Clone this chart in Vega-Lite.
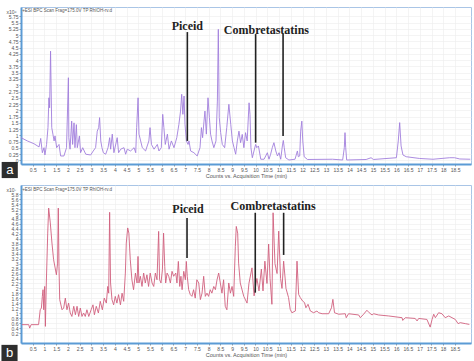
{
 "$schema": "https://vega.github.io/schema/vega-lite/v6.json",
 "background": "white",
 "padding": {"left": 0, "top": 6, "right": 4, "bottom": 0},
 "autosize": {"type": "pad"},
 "spacing": 21,
 "bounds": "flush",
 "config": {
  "view": {"stroke": "#a9c5e6", "strokeWidth": 1},
  "axis": {"domainColor": "#5b9bd5", "domainWidth": 2, "tickColor": "#999", "tickSize": 2, "labelFontSize": 5, "labelColor": "#555", "labelFont": "Liberation Sans", "gridColor": "#ececec", "gridWidth": 0.6, "labelOverlap": false, "labelBound": false, "labelPadding": 1, "titleFont": "Liberation Sans", "titleFontWeight": "normal", "titleColor": "#555", "titleFontSize": 5.5}
 },
 "datasets": {
  "lineA": [
   {"t":0.0,"v":0.91},{"t":0.27,"v":0.78},{"t":0.55,"v":0.67},{"t":0.77,"v":0.54},{"t":0.84,"v":0.88},{"t":0.91,"v":0.31},{"t":0.98,"v":0.51},{"t":1.02,"v":0.22},{"t":1.09,"v":0.64},{"t":1.15,"v":1.31},{"t":1.19,"v":2.5},{"t":1.22,"v":2.1},{"t":1.26,"v":4.36},{"t":1.31,"v":1.31},{"t":1.36,"v":1.05},{"t":1.41,"v":0.78},{"t":1.45,"v":0.98},{"t":1.52,"v":0.51},{"t":1.62,"v":0.64},{"t":1.69,"v":0.18},{"t":1.83,"v":0.18},{"t":1.94,"v":0.51},{"t":2.02,"v":3.3},{"t":2.04,"v":0.91},{"t":2.09,"v":0.45},{"t":2.16,"v":1.57},{"t":2.2,"v":0.64},{"t":2.26,"v":1.5},{"t":2.3,"v":0.51},{"t":2.36,"v":1.43},{"t":2.4,"v":0.51},{"t":2.49,"v":0.98},{"t":2.54,"v":0.31},{"t":2.63,"v":0.51},{"t":2.76,"v":0.25},{"t":2.97,"v":0.22},{"t":3.08,"v":0.38},{"t":3.18,"v":0.51},{"t":3.25,"v":1.17},{"t":3.31,"v":1.31},{"t":3.35,"v":1.71},{"t":3.4,"v":0.78},{"t":3.45,"v":0.51},{"t":3.51,"v":0.31},{"t":3.61,"v":0.25},{"t":3.71,"v":0.51},{"t":3.78,"v":0.91},{"t":3.82,"v":0.45},{"t":3.89,"v":1.05},{"t":3.96,"v":0.31},{"t":4.1,"v":0.91},{"t":4.16,"v":0.31},{"t":4.25,"v":0.45},{"t":4.39,"v":0.51},{"t":4.46,"v":0.25},{"t":4.53,"v":0.45},{"t":4.67,"v":0.38},{"t":4.82,"v":0.51},{"t":4.89,"v":0.31},{"t":4.93,"v":1.31},{"t":4.99,"v":2.5},{"t":5.03,"v":1.05},{"t":5.1,"v":0.78},{"t":5.17,"v":0.51},{"t":5.31,"v":0.38},{"t":5.45,"v":0.78},{"t":5.5,"v":1.31},{"t":5.56,"v":0.64},{"t":5.67,"v":0.45},{"t":5.81,"v":0.64},{"t":5.88,"v":0.38},{"t":5.98,"v":0.51},{"t":6.04,"v":1.84},{"t":6.09,"v":1.31},{"t":6.15,"v":0.64},{"t":6.24,"v":1.05},{"t":6.31,"v":0.45},{"t":6.41,"v":0.78},{"t":6.52,"v":0.51},{"t":6.64,"v":0.91},{"t":6.73,"v":1.44},{"t":6.8,"v":1.97},{"t":6.85,"v":2.64},{"t":6.9,"v":1.84},{"t":6.95,"v":2.57},{"t":6.99,"v":1.44},{"t":7.05,"v":0.78},{"t":7.12,"v":0.64},{"t":7.16,"v":0.78},{"t":7.23,"v":0.38},{"t":7.37,"v":0.31},{"t":7.51,"v":0.18},{"t":7.63,"v":0.51},{"t":7.69,"v":1.31},{"t":7.74,"v":0.91},{"t":7.8,"v":1.57},{"t":7.84,"v":1.97},{"t":7.9,"v":1.05},{"t":7.97,"v":2.5},{"t":8.03,"v":1.71},{"t":8.08,"v":1.05},{"t":8.14,"v":0.78},{"t":8.22,"v":0.51},{"t":8.31,"v":0.78},{"t":8.37,"v":2.37},{"t":8.41,"v":5.23},{"t":8.45,"v":1.71},{"t":8.51,"v":1.11},{"t":8.58,"v":0.64},{"t":8.68,"v":0.51},{"t":8.77,"v":1.31},{"t":8.86,"v":2.24},{"t":8.94,"v":1.44},{"t":9.01,"v":0.78},{"t":9.08,"v":0.51},{"t":9.15,"v":0.25},{"t":9.22,"v":0.78},{"t":9.29,"v":1.17},{"t":9.36,"v":0.71},{"t":9.43,"v":1.04},{"t":9.5,"v":0.51},{"t":9.57,"v":1.11},{"t":9.64,"v":0.78},{"t":9.72,"v":2.3},{"t":9.76,"v":1.84},{"t":9.8,"v":0.51},{"t":9.86,"v":0.11},{"t":9.93,"v":0.38},{"t":10.0,"v":0.64},{"t":10.05,"v":0.51},{"t":10.12,"v":0.58},{"t":10.22,"v":0.05},{"t":10.36,"v":0.05},{"t":10.43,"v":0.18},{"t":10.5,"v":0.31},{"t":10.57,"v":0.05},{"t":10.64,"v":0.25},{"t":10.71,"v":0.51},{"t":10.78,"v":0.71},{"t":10.86,"v":0.38},{"t":10.93,"v":0.18},{"t":11.0,"v":0.31},{"t":11.07,"v":0.05},{"t":11.14,"v":0.58},{"t":11.18,"v":0.8},{"t":11.22,"v":0.51},{"t":11.28,"v":0.11},{"t":11.42,"v":0.02},{"t":11.68,"v":0.05},{"t":11.78,"v":0.38},{"t":11.82,"v":0.15},{"t":11.88,"v":0.18},{"t":11.92,"v":1.17},{"t":11.97,"v":1.57},{"t":12.01,"v":0.78},{"t":12.07,"v":0.15},{"t":12.21,"v":0.04},{"t":13.28,"v":0.05},{"t":13.71,"v":0.02},{"t":13.78,"v":0.51},{"t":13.81,"v":1.11},{"t":13.84,"v":0.51},{"t":13.88,"v":0.02},{"t":14.71,"v":0.04},{"t":14.92,"v":0.11},{"t":15.02,"v":0.04},{"t":16.0,"v":0.11},{"t":16.08,"v":0.78},{"t":16.14,"v":1.51},{"t":16.2,"v":0.58},{"t":16.28,"v":0.22},{"t":16.42,"v":0.15},{"t":16.99,"v":0.08},{"t":17.56,"v":0.05},{"t":18.27,"v":0.11},{"t":18.48,"v":0.11},{"t":18.7,"v":0.06},{"t":19.15,"v":0.05}
  ],
  "lineB": [
   {"t":0.04,"v":0.54},{"t":0.33,"v":0.54},{"t":0.37,"v":0.4},{"t":0.43,"v":0.54},{"t":0.75,"v":0.54},{"t":0.82,"v":1.14},{"t":0.87,"v":1.21},{"t":0.91,"v":1.68},{"t":0.94,"v":1.95},{"t":0.97,"v":1.14},{"t":1.01,"v":2.08},{"t":1.04,"v":0.47},{"t":1.08,"v":2.22},{"t":1.14,"v":4.23},{"t":1.18,"v":5.24},{"t":1.25,"v":4.64},{"t":1.32,"v":3.83},{"t":1.39,"v":3.16},{"t":1.51,"v":2.55},{"t":1.56,"v":3.02},{"t":1.59,"v":5.24},{"t":1.62,"v":2.89},{"t":1.65,"v":1.55},{"t":1.75,"v":1.14},{"t":1.82,"v":1.21},{"t":1.89,"v":1.61},{"t":1.96,"v":1.14},{"t":2.03,"v":1.41},{"t":2.1,"v":1.01},{"t":2.17,"v":0.87},{"t":2.25,"v":1.28},{"t":2.32,"v":0.94},{"t":2.39,"v":1.28},{"t":2.46,"v":0.87},{"t":2.53,"v":1.21},{"t":2.6,"v":0.87},{"t":2.67,"v":1.01},{"t":2.74,"v":0.87},{"t":2.81,"v":1.14},{"t":2.89,"v":0.87},{"t":2.99,"v":1.14},{"t":3.07,"v":1.34},{"t":3.13,"v":0.94},{"t":3.21,"v":1.28},{"t":3.3,"v":1.01},{"t":3.38,"v":1.48},{"t":3.47,"v":1.14},{"t":3.55,"v":1.61},{"t":3.64,"v":1.41},{"t":3.7,"v":2.08},{"t":3.74,"v":1.81},{"t":3.78,"v":5.07},{"t":3.82,"v":2.22},{"t":3.88,"v":1.55},{"t":3.95,"v":1.34},{"t":4.02,"v":1.68},{"t":4.09,"v":1.41},{"t":4.16,"v":1.75},{"t":4.24,"v":1.34},{"t":4.31,"v":1.81},{"t":4.38,"v":1.48},{"t":4.45,"v":2.62},{"t":4.49,"v":3.83},{"t":4.55,"v":4.44},{"t":4.6,"v":4.23},{"t":4.66,"v":3.16},{"t":4.73,"v":2.35},{"t":4.8,"v":1.95},{"t":4.88,"v":2.62},{"t":4.95,"v":2.22},{"t":4.99,"v":3.29},{"t":5.03,"v":2.22},{"t":5.09,"v":2.49},{"t":5.16,"v":2.08},{"t":5.23,"v":2.62},{"t":5.3,"v":2.22},{"t":5.37,"v":2.55},{"t":5.44,"v":2.08},{"t":5.51,"v":2.62},{"t":5.59,"v":2.22},{"t":5.66,"v":2.08},{"t":5.73,"v":2.62},{"t":5.8,"v":2.35},{"t":5.87,"v":4.3},{"t":5.91,"v":2.35},{"t":5.97,"v":2.22},{"t":6.03,"v":2.75},{"t":6.08,"v":4.23},{"t":6.13,"v":2.89},{"t":6.17,"v":2.22},{"t":6.23,"v":2.62},{"t":6.3,"v":2.49},{"t":6.37,"v":2.22},{"t":6.44,"v":2.69},{"t":6.51,"v":2.49},{"t":6.6,"v":2.62},{"t":6.65,"v":2.22},{"t":6.71,"v":3.09},{"t":6.77,"v":2.08},{"t":6.82,"v":2.49},{"t":6.87,"v":1.95},{"t":6.94,"v":2.69},{"t":7.01,"v":2.35},{"t":7.05,"v":3.09},{"t":7.09,"v":2.49},{"t":7.15,"v":1.95},{"t":7.22,"v":1.75},{"t":7.29,"v":1.68},{"t":7.36,"v":1.95},{"t":7.43,"v":1.61},{"t":7.5,"v":2.35},{"t":7.58,"v":2.22},{"t":7.65,"v":1.55},{"t":7.72,"v":1.81},{"t":7.79,"v":2.49},{"t":7.86,"v":1.68},{"t":7.93,"v":1.81},{"t":8.0,"v":1.68},{"t":8.07,"v":1.95},{"t":8.14,"v":1.81},{"t":8.22,"v":2.08},{"t":8.29,"v":1.95},{"t":8.36,"v":2.35},{"t":8.43,"v":2.62},{"t":8.5,"v":2.22},{"t":8.57,"v":1.81},{"t":8.64,"v":2.35},{"t":8.71,"v":1.28},{"t":8.78,"v":1.14},{"t":8.86,"v":2.22},{"t":8.93,"v":1.81},{"t":9.0,"v":2.08},{"t":9.07,"v":1.68},{"t":9.14,"v":3.7},{"t":9.18,"v":4.5},{"t":9.24,"v":4.23},{"t":9.28,"v":3.02},{"t":9.35,"v":2.22},{"t":9.5,"v":1.68},{"t":9.64,"v":1.41},{"t":9.72,"v":2.2},{"t":9.85,"v":2.83},{"t":9.94,"v":1.7},{"t":10.06,"v":2.4},{"t":10.15,"v":1.9},{"t":10.25,"v":2.78},{"t":10.32,"v":1.9},{"t":10.4,"v":3.1},{"t":10.49,"v":2.2},{"t":10.56,"v":3.79},{"t":10.62,"v":2.4},{"t":10.7,"v":1.36},{"t":10.75,"v":5.05},{"t":10.83,"v":3.0},{"t":10.92,"v":2.6},{"t":10.99,"v":4.31},{"t":11.07,"v":2.4},{"t":11.13,"v":2.0},{"t":11.2,"v":3.1},{"t":11.3,"v":2.0},{"t":11.41,"v":1.63},{"t":11.48,"v":1.16},{"t":11.55,"v":1.02},{"t":11.7,"v":1.09},{"t":11.77,"v":3.1},{"t":11.84,"v":1.76},{"t":11.91,"v":1.63},{"t":12.01,"v":1.49},{"t":12.09,"v":1.43},{"t":12.15,"v":1.22},{"t":12.24,"v":1.36},{"t":12.34,"v":1.09},{"t":12.48,"v":1.02},{"t":12.62,"v":1.09},{"t":12.69,"v":1.02},{"t":12.84,"v":0.98},{"t":13.12,"v":0.98},{"t":13.24,"v":1.22},{"t":13.3,"v":1.56},{"t":13.37,"v":1.02},{"t":13.55,"v":0.96},{"t":13.83,"v":0.98},{"t":13.87,"v":0.82},{"t":13.97,"v":0.98},{"t":14.4,"v":0.93},{"t":14.47,"v":0.82},{"t":14.61,"v":0.96},{"t":14.75,"v":1.12},{"t":14.85,"v":1.02},{"t":14.97,"v":0.93},{"t":15.04,"v":0.98},{"t":15.25,"v":0.93},{"t":15.68,"v":0.89},{"t":16.25,"v":0.82},{"t":16.28,"v":0.71},{"t":16.39,"v":0.82},{"t":16.81,"v":0.79},{"t":16.89,"v":0.69},{"t":16.96,"v":0.79},{"t":17.31,"v":0.75},{"t":17.45,"v":0.44},{"t":17.53,"v":0.75},{"t":17.6,"v":0.96},{"t":17.67,"v":0.82},{"t":17.81,"v":1.02},{"t":17.95,"v":0.98},{"t":18.09,"v":0.82},{"t":18.24,"v":0.89},{"t":18.38,"v":0.82},{"t":18.52,"v":0.75},{"t":18.64,"v":0.58},{"t":18.73,"v":0.62},{"t":18.95,"v":0.58},{"t":19.12,"v":0.55}
  ],
  "rulesA": [{"t":7.09,"v1":5.12,"v2":0.78},{"t":10.0,"v1":5.04,"v2":0.71},{"t":11.17,"v1":5.04,"v2":0.98}],
  "rulesB": [{"t":7.08,"v1":4.84,"v2":3.23},{"t":9.99,"v1":5.05,"v2":1.83},{"t":11.2,"v1":5.05,"v2":3.35}],
  "textA": [{"t":7.09,"v":5.36,"label":"Piceid"},{"t":10.46,"v":5.2,"label":"Combretastatins"}],
  "textB": [{"t":7.12,"v":5.2,"label":"Piceid"},{"t":10.75,"v":5.32,"label":"Combretastatins"}],
  "headA": [{"t":0.05,"v":5.96,"label":"+ESI BPC Scan Frag=175.0V TP RhIOH-rv.d"}],
  "headB": [{"t":0.05,"v":5.97,"label":"+ESI BPC Scan Frag=175.0V TP RhIOH-rv.d"}],
  "badgeA": [{"t":-0.48,"v":-0.38,"label":"a"}],
  "badgeB": [{"t":-0.49,"v":-0.6,"label":"b"}]
 },
 "vconcat": [
  {
   "width": 450, "height": 157,
   "layer": [
    {"data": {"name": "lineA"},
     "mark": {"type": "line", "color": "#a17fdc", "strokeWidth": 0.9, "clip": true},
     "encoding": {
      "x": {"field": "t", "type": "quantitative", "scale": {"domain": [0, 19.18], "nice": false, "zero": false},
            "axis": {"values": [0.5,1,1.5,2,2.5,3,3.5,4,4.5,5,5.5,6,6.5,7,7.5,8,8.5,9,9.5,10,10.5,11,11.5,12,12.5,13,13.5,14,14.5,15,15.5,16,16.5,17,17.5,18,18.5], "tickCount": 500, "format": "~g", "labelOverlap": false, "title": "Counts vs. Acquisition Time (min)", "titlePadding": 1}},
      "y": {"field": "v", "type": "quantitative", "scale": {"domain": [-0.14, 6.12], "nice": false, "zero": false},
            "axis": {"values": [0,0.25,0.5,0.75,1,1.25,1.5,1.75,2,2.25,2.5,2.75,3,3.25,3.5,3.75,4,4.25,4.5,4.75,5,5.25,5.5,5.75], "tickCount": 500, "format": "~g", "labelOverlap": false, "title": "x10⁶", "titleAngle": 0, "titleX": -10, "titleY": 4, "titleAlign": "center", "titleBaseline": "middle", "titleFontSize": 5}}
     }},
    {"data": {"name": "rulesA"}, "mark": {"type": "rule", "color": "#222", "strokeWidth": 1.6},
     "encoding": {"x": {"field": "t", "type": "quantitative"}, "y": {"field": "v1", "type": "quantitative"}, "y2": {"field": "v2"}}},
    {"data": {"name": "textA"}, "mark": {"type": "text", "font": "Liberation Serif", "fontWeight": "bold", "fontSize": 12, "color": "#222"},
     "encoding": {"x": {"field": "t", "type": "quantitative"}, "y": {"field": "v", "type": "quantitative"}, "text": {"field": "label"}}},
    {"data": {"name": "headA"}, "mark": {"type": "text", "font": "Liberation Sans", "fontSize": 4.5, "color": "#555", "align": "left"},
     "encoding": {"x": {"field": "t", "type": "quantitative"}, "y": {"field": "v", "type": "quantitative"}, "text": {"field": "label"}}},
    {"data": {"name": "badgeA"}, "mark": {"type": "point", "shape": "square", "filled": true, "size": 260, "color": "#2e2e2e", "opacity": 1, "clip": false},
     "encoding": {"x": {"field": "t", "type": "quantitative"}, "y": {"field": "v", "type": "quantitative"}}},
    {"data": {"name": "badgeA"}, "mark": {"type": "text", "font": "Liberation Sans", "fontSize": 13, "color": "white", "baseline": "middle"},
     "encoding": {"x": {"field": "t", "type": "quantitative"}, "y": {"field": "v", "type": "quantitative"}, "text": {"field": "label"}}}
   ]
  },
  {
   "width": 450, "height": 158,
   "layer": [
    {"data": {"name": "lineB"},
     "mark": {"type": "line", "color": "#d0607e", "strokeWidth": 0.9, "clip": true},
     "encoding": {
      "x": {"field": "t", "type": "quantitative", "scale": {"domain": [0, 19.19], "nice": false, "zero": false},
            "axis": {"values": [0.5,1,1.5,2,2.5,3,3.5,4,4.5,5,5.5,6,6.5,7,7.5,8,8.5,9,9.5,10,10.5,11,11.5,12,12.5,13,13.5,14,14.5,15,15.5,16,16.5,17,17.5,18,18.5], "tickCount": 500, "format": "~g", "labelOverlap": false, "title": "Counts vs. Acquisition Time (min)", "titlePadding": 1}},
      "y": {"field": "v", "type": "quantitative", "scale": {"domain": [-0.2, 6.17], "nice": false, "zero": false},
            "axis": {"values": [0.2,0.4,0.6,0.8,1,1.2,1.4,1.6,1.8,2,2.2,2.4,2.6,2.8,3,3.2,3.4,3.6,3.8,4,4.2,4.4,4.6,4.8,5,5.2,5.4,5.6,5.8], "tickCount": 500, "format": "~g", "labelOverlap": false, "title": "x10⁷", "titleAngle": 0, "titleX": -10, "titleY": 4, "titleAlign": "center", "titleBaseline": "middle", "titleFontSize": 5}}
     }},
    {"data": {"name": "rulesB"}, "mark": {"type": "rule", "color": "#222", "strokeWidth": 1.6},
     "encoding": {"x": {"field": "t", "type": "quantitative"}, "y": {"field": "v1", "type": "quantitative"}, "y2": {"field": "v2"}}},
    {"data": {"name": "textB"}, "mark": {"type": "text", "font": "Liberation Serif", "fontWeight": "bold", "fontSize": 12, "color": "#222"},
     "encoding": {"x": {"field": "t", "type": "quantitative"}, "y": {"field": "v", "type": "quantitative"}, "text": {"field": "label"}}},
    {"data": {"name": "headB"}, "mark": {"type": "text", "font": "Liberation Sans", "fontSize": 4.5, "color": "#555", "align": "left"},
     "encoding": {"x": {"field": "t", "type": "quantitative"}, "y": {"field": "v", "type": "quantitative"}, "text": {"field": "label"}}},
    {"data": {"name": "badgeB"}, "mark": {"type": "point", "shape": "square", "filled": true, "size": 260, "color": "#2e2e2e", "opacity": 1, "clip": false},
     "encoding": {"x": {"field": "t", "type": "quantitative"}, "y": {"field": "v", "type": "quantitative"}}},
    {"data": {"name": "badgeB"}, "mark": {"type": "text", "font": "Liberation Sans", "fontSize": 13, "color": "white", "baseline": "middle"},
     "encoding": {"x": {"field": "t", "type": "quantitative"}, "y": {"field": "v", "type": "quantitative"}, "text": {"field": "label"}}}
   ]
  }
 ]
}
